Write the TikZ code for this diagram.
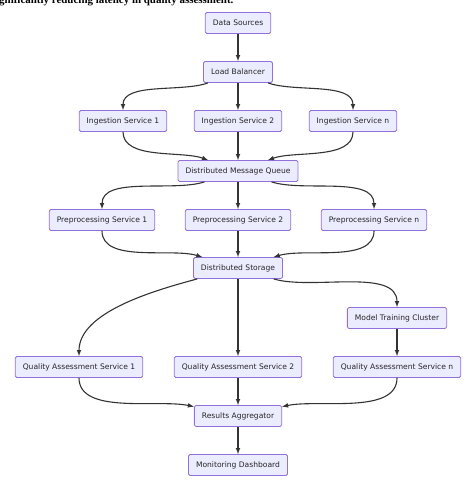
\documentclass[tikz,border=0pt]{standalone}
\usepackage{fontspec}
\setmainfont{DejaVu Sans}
\newfontfamily\capfont{Liberation Serif}
\usepackage{tikz}
\usetikzlibrary{calc}
\definecolor{boxfill}{HTML}{ECECFF}
\definecolor{boxline}{HTML}{9370DB}
\definecolor{edgecol}{HTML}{333333}

\begin{document}
\begin{tikzpicture}[>=latex,x=1bp,y=1bp,
  box/.style={draw=boxline,fill=boxfill,rounded corners=1.5bp,line width=0.8bp,
    minimum height=21bp,inner xsep=7.5bp,text=black!85,font=\fontsize{7.6}{9}\selectfont},
  arr/.style={->,draw=edgecol,line width=1.1bp}]

\useasboundingbox (0,0) rectangle (474,-486);
\clip (0,0) rectangle (474,-486);

%caption line cut off at the top
\node[anchor=base west,inner sep=0,text=black,font=\capfont\bfseries\fontsize{11}{12}\selectfont] (cap) at (-1,-3.5)
  {gnificantly reducing latency in quality assessment.};

%top of the pipeline
\node[box] (src) at (238,-23) {Data Sources};
\node[box] (lb) at (238,-72) {Load Balancer};

\node[box] (ing1) at (123,-121) {Ingestion Service 1};
\node[box] (ing2) at (238,-121) {Ingestion Service 2};
\node[box] (ingn) at (353,-121) {Ingestion Service n};

\node[box] (dmq) at (238,-171) {Distributed Message Queue};

\node[box] (pre1) at (102,-220) {Preprocessing Service 1};
\node[box] (pre2) at (238,-220) {Preprocessing Service 2};
\node[box] (pren) at (374,-220) {Preprocessing Service n};

\node[box] (ds) at (238,-268) {Distributed Storage};
\node[box] (mtc) at (397,-318) {Model Training Cluster};

%bottom of the pipeline
\node[box] (qa1) at (79,-367) {Quality Assessment Service 1};
\node[box] (qa2) at (238,-367) {Quality Assessment Service 2};
\node[box] (qan) at (397,-367) {Quality Assessment Service n};

\node[box] (agg) at (238,-416) {Results Aggregator};
\node[box] (mon) at (238,-465) {Monitoring Dashboard};

\draw[arr] (src) -- (lb);
\draw[arr] (lb) to[out=200,in=90,looseness=0.8] (ing1);
\draw[arr] (lb) -- (ing2);
\draw[arr] (lb) to[out=-20,in=90,looseness=0.8] (ingn);

\draw[arr] (ing1) to[out=-90,in=160,looseness=0.8] (dmq);
\draw[arr] (ing2) -- (dmq);
\draw[arr] (ingn) to[out=-90,in=20,looseness=0.8] (dmq);

\draw[arr] (dmq) to[out=198,in=90,looseness=0.8] (pre1);
\draw[arr] (dmq) -- (pre2);
\draw[arr] (dmq) to[out=-18,in=90,looseness=0.8] (pren);

\draw[arr] (pre1) to[out=-90,in=163,looseness=0.8] (ds);
\draw[arr] (pre2) -- (ds);
\draw[arr] (pren) to[out=-90,in=17,looseness=0.8] (ds);

\draw[arr] (ds) to[out=195,in=90,looseness=0.8] (qa1);
\draw[arr] (ds) -- (qa2);
\draw[arr] (ds) to[out=-17,in=90,looseness=0.8] (mtc);
\draw[arr] (mtc) -- (qan);

\draw[arr] (qa1) to[out=-90,in=168,looseness=0.8] (agg);
\draw[arr] (qa2) -- (agg);
\draw[arr] (qan) to[out=-90,in=12,looseness=0.8] (agg);
\draw[arr] (agg) -- (mon);

\end{tikzpicture}
\end{document}
